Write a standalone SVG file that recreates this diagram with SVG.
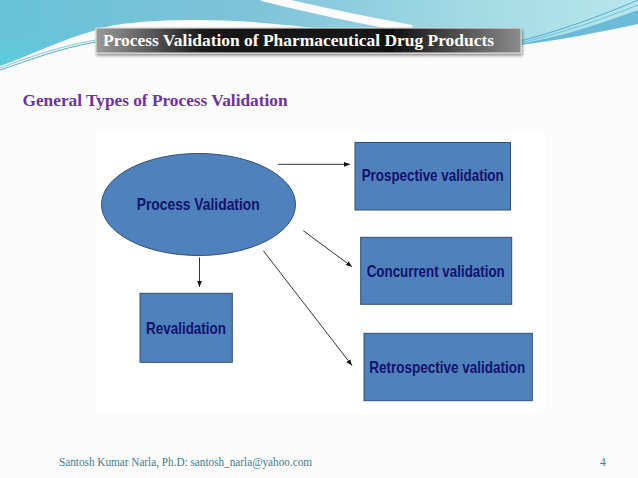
<svg xmlns="http://www.w3.org/2000/svg" width="638" height="478" viewBox="0 0 638 478">
<defs>
<linearGradient id="sky" x1="0" y1="0" x2="1" y2="0">
<stop offset="0" stop-color="#67c2d8"/>
<stop offset="0.4" stop-color="#7fc3d9"/>
<stop offset="0.75" stop-color="#a3dbe5"/>
<stop offset="1" stop-color="#b8e6ec"/>
</linearGradient>
<linearGradient id="skyl" x1="0" y1="0" x2="0" y2="1">
<stop offset="0" stop-color="#6cbfd6" stop-opacity="0"/>
<stop offset="1" stop-color="#55d2e2" stop-opacity="0.8"/>
</linearGradient>
<linearGradient id="bar" x1="0" y1="0" x2="1" y2="0">
<stop offset="0" stop-color="#9a9a9a"/>
<stop offset="0.25" stop-color="#1a1a1a"/>
<stop offset="0.7" stop-color="#111"/>
<stop offset="1" stop-color="#8c8c8c"/>
</linearGradient>
<filter id="sh" x="-5%" y="-30%" width="110%" height="170%">
<feDropShadow dx="1" dy="2" stdDeviation="1.5" flood-color="#000" flood-opacity="0.45"/>
</filter>
<marker id="ah" viewBox="0 0 10 10" refX="10" refY="5" markerWidth="6" markerHeight="6" markerUnits="userSpaceOnUse" orient="auto">
<path d="M0,1 L10,5 L0,9 Z" fill="#111"/>
</marker>
<style>
.box{fill:#4f81bd;stroke:#2f4f78;stroke-width:1}
.lbl{font-family:"Liberation Sans",Arial,sans-serif;font-weight:bold;font-size:17px;fill:#12136b}
.con{stroke:#333;stroke-width:1;fill:none;marker-end:url(#ah)}
</style>
</defs>
<rect width="638" height="478" fill="#fbfbfb"/>
<!-- top decoration -->
<g id="background-top">
<path d="M0,0 H638 V24 C600,32 560,40 520,45 L96,30 C60,40 30,55 0,66 Z" fill="url(#sky)"/>
<path d="M0,20 V66 C30,55 60,40 96,30 L96,20 Z" fill="url(#skyl)"/>
<path d="M96,29 C140,18 230,16 330,30 L96,30 Z" fill="#fbfbfb"/>
<path d="M262,-3 Q330,14 412,29" stroke="#fbfbfb" stroke-width="8" fill="none"/>
<path d="M520,44 C570,35 610,20 638,10 V24 C600,32 560,40 520,45 Z" fill="#4aa9d0" opacity="0.7"/>
<path d="M520,41 C570,28 610,12 638,0" stroke="#3a9ccc" stroke-width="0.8" fill="none"/>
<path d="M520,43 C570,31 610,16 638,5" stroke="#5bb6d8" stroke-width="0.8" fill="none"/>
<path d="M0,70 C30,60 60,48 96,42" stroke="#2f96b0" stroke-width="0.8" fill="none"/>
<path d="M0,68 C30,57 60,46 96,40" stroke="#59bfd2" stroke-width="0.8" fill="none"/>
</g>
<g id="title">
<rect x="96" y="28" width="425" height="25" fill="url(#bar)" stroke="#d8d8d8" stroke-width="1.2" filter="url(#sh)"/>
<text x="103" y="45.5" textLength="391" lengthAdjust="spacingAndGlyphs" font-family="'Liberation Serif',serif" font-weight="bold" font-size="16.5" fill="#ffffff">Process Validation of Pharmaceutical Drug Products</text>
</g>
<text id="heading" x="22.5" y="105.5" textLength="265" lengthAdjust="spacingAndGlyphs" font-family="'Liberation Serif',serif" font-weight="bold" font-size="16.5" fill="#7030a0">General Types of Process Validation</text>
<rect id="panel" x="96" y="131" width="449" height="283" fill="#ffffff"/>
<g id="connectors">
<line class="con" x1="278" y1="164.3" x2="350" y2="164.3"/>
<line class="con" x1="303.3" y1="230.7" x2="352" y2="266.7"/>
<line class="con" x1="263.3" y1="250.7" x2="352" y2="365.5"/>
<line class="con" x1="199.5" y1="257.5" x2="199.5" y2="287"/>
</g>
<g id="process-validation">
<ellipse class="box" cx="198.5" cy="204.5" rx="97" ry="51"/>
<text class="lbl" x="136.7" y="209.5" textLength="123" lengthAdjust="spacingAndGlyphs">Process Validation</text>
</g>
<g id="prospective">
<rect class="box" x="355" y="142.5" width="155.5" height="67.5"/>
<text class="lbl" x="361.7" y="180.5" textLength="142" lengthAdjust="spacingAndGlyphs">Prospective validation</text>
</g>
<g id="concurrent">
<rect class="box" x="360.7" y="237.3" width="151" height="67"/>
<text class="lbl" x="366.7" y="276.5" textLength="138" lengthAdjust="spacingAndGlyphs">Concurrent validation</text>
</g>
<g id="revalidation">
<rect class="box" x="140" y="293.3" width="92.3" height="69"/>
<text class="lbl" x="146" y="333.8" textLength="80" lengthAdjust="spacingAndGlyphs">Revalidation</text>
</g>
<g id="retrospective">
<rect class="box" x="364" y="333.3" width="168.3" height="67.4"/>
<text class="lbl" x="369.3" y="372.5" textLength="156" lengthAdjust="spacingAndGlyphs">Retrospective validation</text>
</g>
<g id="footer" font-family="'Liberation Serif',serif" font-size="11.5" fill="#3f7d8f">
<text x="59" y="466" textLength="253" lengthAdjust="spacingAndGlyphs">Santosh Kumar Narla, Ph.D: santosh_narla@yahoo.com</text>
<text x="600" y="466">4</text>
</g>
</svg>
